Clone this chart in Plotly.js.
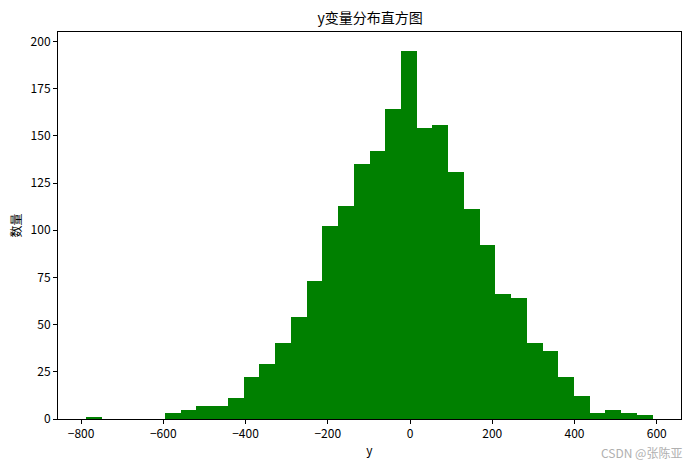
<!DOCTYPE html>
<html>
<head>
<meta charset="utf-8">
<script src="https://cdn.plot.ly/plotly-3.0.1.min.js"></script>
<style>html,body{margin:0;padding:0;background:#fff;}#chart{width:692px;height:468px;}</style>
</head>
<body>
<div id="chart"></div>
<script>
// Histogram bins: 36 bins starting at -787 with width 38.25
const binStart = -787;
const binWidth = 38.25;
const counts = [1, 0, 0, 0, 0, 3, 5, 7, 7, 11, 22, 29, 40, 54, 73, 102, 113, 135, 142, 164, 195, 154, 156, 131, 111, 92, 66, 64, 40, 36, 22, 12, 3, 5, 3, 2];
const xTicks = [-800, -600, -400, -200, 0, 200, 400, 600];
const yTicks = [0, 25, 50, 75, 100, 125, 150, 175, 200];

const centers = counts.map((c, i) => binStart + binWidth * (i + 0.5));

const font = "Noto Sans CJK SC, DejaVu Sans, sans-serif";

const trace = {
  type: 'bar',
  x: centers,
  y: counts,
  width: counts.map(() => binWidth),
  marker: {color: '#008000', line: {width: 0}},
  hoverinfo: 'x+y'
};

const layout = {
  width: 692, height: 468,
  margin: {l: 58, r: 11, t: 32, b: 49},
  paper_bgcolor: '#fff', plot_bgcolor: '#fff',
  showlegend: false,
  bargap: 0,
  title: {text: 'y变量分布直方图', font: {family: font, size: 14, color: '#000'}, x: 0.535, xanchor: 'center', y: 0.962, yanchor: 'middle'},
  xaxis: {
    range: [-856, 659],
    tickvals: xTicks,
    ticktext: xTicks.map(v => v < 0 ? '\u2212' + Math.abs(v) : String(v)),
    ticks: 'outside', ticklen: 4, tickcolor: '#000', tickwidth: 1,
    showline: true, linecolor: '#000', linewidth: 1, mirror: true,
    showgrid: false, zeroline: false,
    tickfont: {family: font, size: 12, color: '#000'},
    title: {text: 'y', font: {family: font, size: 12, color: '#000'}, standoff: 6}
  },
  yaxis: {
    range: [0, 205],
    tickvals: yTicks,
    ticks: 'outside', ticklen: 4, tickcolor: '#000', tickwidth: 1,
    showline: true, linecolor: '#000', linewidth: 1, mirror: true,
    showgrid: false, zeroline: false,
    tickfont: {family: font, size: 12, color: '#000'},
    title: {text: '数量', font: {family: font, size: 12, color: '#000'}, standoff: 6}
  },
  annotations: [{
    text: 'CSDN @张陈亚', xref: 'paper', yref: 'paper', x: 1.005, y: -0.086,
    xanchor: 'right', yanchor: 'middle', showarrow: false,
    font: {family: font, size: 12, color: '#b0b0b0'}
  }]
};

Plotly.newPlot('chart', [trace], layout, {displayModeBar: false, staticPlot: true});
</script>
</body>
</html>
